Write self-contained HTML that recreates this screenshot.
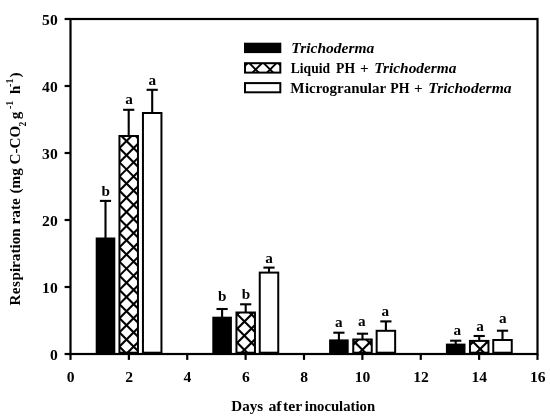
<!DOCTYPE html>
<html><head><meta charset="utf-8"><title>Respiration rate</title>
<style>
html,body{margin:0;padding:0;background:#fff;}
svg{display:block;}
text{font-family:"Liberation Serif",serif;font-weight:bold;fill:#000;}
</style></head><body>
<svg width="550" height="418" viewBox="0 0 550 418">
<rect x="0" y="0" width="550" height="418" fill="#fff"/>
<defs>
<clipPath id="c1"><rect x="119.45" y="136.00" width="18.50" height="218.00"/></clipPath>
<clipPath id="c4"><rect x="236.45" y="312.50" width="18.50" height="41.50"/></clipPath>
<clipPath id="c7"><rect x="353.25" y="339.50" width="18.50" height="14.50"/></clipPath>
<clipPath id="c10"><rect x="469.95" y="340.90" width="18.50" height="13.10"/></clipPath>
<clipPath id="cl"><rect x="245" y="63.2" width="35.3" height="9.4"/></clipPath>
</defs>
<line x1="105.50" y1="200.90" x2="105.50" y2="238.50" stroke="#000" stroke-width="2.1"/>
<line x1="99.90" y1="200.90" x2="111.10" y2="200.90" stroke="#000" stroke-width="2.1"/>
<rect x="95.70" y="237.50" width="19.6" height="116.50" fill="#000"/>
<text x="105.80" y="196.00" font-size="15.2" text-anchor="middle">b</text>
<line x1="128.70" y1="109.80" x2="128.70" y2="136.00" stroke="#000" stroke-width="2.1"/>
<line x1="123.10" y1="109.80" x2="134.30" y2="109.80" stroke="#000" stroke-width="2.1"/>
<rect x="119.45" y="136.00" width="18.50" height="216.70" fill="#fff" stroke="none"/>
<g clip-path="url(#c1)" stroke="#000" stroke-width="2.1" fill="none">
<line x1="117.45" y1="89.41" x2="139.95" y2="111.91"/>
<line x1="117.45" y1="103.59" x2="139.95" y2="126.09"/>
<line x1="117.45" y1="117.77" x2="139.95" y2="140.27"/>
<line x1="117.45" y1="131.95" x2="139.95" y2="154.45"/>
<line x1="117.45" y1="146.13" x2="139.95" y2="168.63"/>
<line x1="117.45" y1="160.31" x2="139.95" y2="182.81"/>
<line x1="117.45" y1="174.49" x2="139.95" y2="196.99"/>
<line x1="117.45" y1="188.67" x2="139.95" y2="211.17"/>
<line x1="117.45" y1="202.85" x2="139.95" y2="225.35"/>
<line x1="117.45" y1="217.03" x2="139.95" y2="239.53"/>
<line x1="117.45" y1="231.21" x2="139.95" y2="253.71"/>
<line x1="117.45" y1="245.39" x2="139.95" y2="267.89"/>
<line x1="117.45" y1="259.57" x2="139.95" y2="282.07"/>
<line x1="117.45" y1="273.75" x2="139.95" y2="296.25"/>
<line x1="117.45" y1="287.93" x2="139.95" y2="310.43"/>
<line x1="117.45" y1="302.11" x2="139.95" y2="324.61"/>
<line x1="117.45" y1="316.29" x2="139.95" y2="338.79"/>
<line x1="117.45" y1="330.47" x2="139.95" y2="352.97"/>
<line x1="117.45" y1="344.65" x2="139.95" y2="367.15"/>
<line x1="117.45" y1="358.83" x2="139.95" y2="381.33"/>
<line x1="117.45" y1="373.01" x2="139.95" y2="395.51"/>
<line x1="117.45" y1="121.69" x2="139.95" y2="99.19"/>
<line x1="117.45" y1="135.87" x2="139.95" y2="113.37"/>
<line x1="117.45" y1="150.05" x2="139.95" y2="127.55"/>
<line x1="117.45" y1="164.23" x2="139.95" y2="141.73"/>
<line x1="117.45" y1="178.41" x2="139.95" y2="155.91"/>
<line x1="117.45" y1="192.59" x2="139.95" y2="170.09"/>
<line x1="117.45" y1="206.77" x2="139.95" y2="184.27"/>
<line x1="117.45" y1="220.95" x2="139.95" y2="198.45"/>
<line x1="117.45" y1="235.13" x2="139.95" y2="212.63"/>
<line x1="117.45" y1="249.31" x2="139.95" y2="226.81"/>
<line x1="117.45" y1="263.49" x2="139.95" y2="240.99"/>
<line x1="117.45" y1="277.67" x2="139.95" y2="255.17"/>
<line x1="117.45" y1="291.85" x2="139.95" y2="269.35"/>
<line x1="117.45" y1="306.03" x2="139.95" y2="283.53"/>
<line x1="117.45" y1="320.21" x2="139.95" y2="297.71"/>
<line x1="117.45" y1="334.39" x2="139.95" y2="311.89"/>
<line x1="117.45" y1="348.57" x2="139.95" y2="326.07"/>
<line x1="117.45" y1="362.75" x2="139.95" y2="340.25"/>
<line x1="117.45" y1="376.93" x2="139.95" y2="354.43"/>
<line x1="117.45" y1="391.11" x2="139.95" y2="368.61"/>
</g>
<rect x="119.45" y="136.00" width="18.50" height="216.70" fill="none" stroke="#000" stroke-width="2.0"/>
<text x="129.00" y="103.90" font-size="15.2" text-anchor="middle">a</text>
<line x1="152.20" y1="89.80" x2="152.20" y2="113.00" stroke="#000" stroke-width="2.1"/>
<line x1="146.60" y1="89.80" x2="157.80" y2="89.80" stroke="#000" stroke-width="2.1"/>
<rect x="142.95" y="113.00" width="18.50" height="239.70" fill="#fff" stroke="none"/>
<rect x="142.95" y="113.00" width="18.50" height="239.70" fill="none" stroke="#000" stroke-width="2.0"/>
<text x="152.30" y="84.70" font-size="15.2" text-anchor="middle">a</text>
<line x1="222.10" y1="309.00" x2="222.10" y2="317.70" stroke="#000" stroke-width="2.1"/>
<line x1="216.50" y1="309.00" x2="227.70" y2="309.00" stroke="#000" stroke-width="2.1"/>
<rect x="212.30" y="316.70" width="19.6" height="37.30" fill="#000"/>
<text x="222.30" y="300.50" font-size="15.2" text-anchor="middle">b</text>
<line x1="245.70" y1="304.30" x2="245.70" y2="312.50" stroke="#000" stroke-width="2.1"/>
<line x1="240.10" y1="304.30" x2="251.30" y2="304.30" stroke="#000" stroke-width="2.1"/>
<rect x="236.45" y="312.50" width="18.50" height="40.20" fill="#fff" stroke="none"/>
<g clip-path="url(#c4)" stroke="#000" stroke-width="2.1" fill="none">
<line x1="234.45" y1="269.01" x2="256.95" y2="291.51"/>
<line x1="234.45" y1="283.19" x2="256.95" y2="305.69"/>
<line x1="234.45" y1="297.37" x2="256.95" y2="319.87"/>
<line x1="234.45" y1="311.55" x2="256.95" y2="334.05"/>
<line x1="234.45" y1="325.73" x2="256.95" y2="348.23"/>
<line x1="234.45" y1="339.91" x2="256.95" y2="362.41"/>
<line x1="234.45" y1="354.09" x2="256.95" y2="376.59"/>
<line x1="234.45" y1="368.27" x2="256.95" y2="390.77"/>
<line x1="234.45" y1="288.91" x2="256.95" y2="266.41"/>
<line x1="234.45" y1="303.09" x2="256.95" y2="280.59"/>
<line x1="234.45" y1="317.27" x2="256.95" y2="294.77"/>
<line x1="234.45" y1="331.45" x2="256.95" y2="308.95"/>
<line x1="234.45" y1="345.63" x2="256.95" y2="323.13"/>
<line x1="234.45" y1="359.81" x2="256.95" y2="337.31"/>
<line x1="234.45" y1="373.99" x2="256.95" y2="351.49"/>
<line x1="234.45" y1="388.17" x2="256.95" y2="365.67"/>
<line x1="234.45" y1="402.35" x2="256.95" y2="379.85"/>
</g>
<rect x="236.45" y="312.50" width="18.50" height="40.20" fill="none" stroke="#000" stroke-width="2.0"/>
<text x="245.90" y="299.00" font-size="15.2" text-anchor="middle">b</text>
<line x1="269.00" y1="267.60" x2="269.00" y2="272.60" stroke="#000" stroke-width="2.1"/>
<line x1="263.40" y1="267.60" x2="274.60" y2="267.60" stroke="#000" stroke-width="2.1"/>
<rect x="259.75" y="272.60" width="18.50" height="80.10" fill="#fff" stroke="none"/>
<rect x="259.75" y="272.60" width="18.50" height="80.10" fill="none" stroke="#000" stroke-width="2.0"/>
<text x="269.10" y="262.90" font-size="15.2" text-anchor="middle">a</text>
<line x1="338.90" y1="332.70" x2="338.90" y2="340.40" stroke="#000" stroke-width="2.1"/>
<line x1="333.30" y1="332.70" x2="344.50" y2="332.70" stroke="#000" stroke-width="2.1"/>
<rect x="329.10" y="339.40" width="19.6" height="14.60" fill="#000"/>
<text x="338.90" y="327.10" font-size="15.2" text-anchor="middle">a</text>
<line x1="362.50" y1="333.70" x2="362.50" y2="339.50" stroke="#000" stroke-width="2.1"/>
<line x1="356.90" y1="333.70" x2="368.10" y2="333.70" stroke="#000" stroke-width="2.1"/>
<rect x="353.25" y="339.50" width="18.50" height="13.20" fill="#fff" stroke="none"/>
<g clip-path="url(#c7)" stroke="#000" stroke-width="2.1" fill="none">
<line x1="351.25" y1="296.11" x2="373.75" y2="318.61"/>
<line x1="351.25" y1="310.29" x2="373.75" y2="332.79"/>
<line x1="351.25" y1="324.47" x2="373.75" y2="346.97"/>
<line x1="351.25" y1="338.65" x2="373.75" y2="361.15"/>
<line x1="351.25" y1="352.83" x2="373.75" y2="375.33"/>
<line x1="351.25" y1="367.01" x2="373.75" y2="389.51"/>
<line x1="351.25" y1="318.41" x2="373.75" y2="295.91"/>
<line x1="351.25" y1="332.59" x2="373.75" y2="310.09"/>
<line x1="351.25" y1="346.77" x2="373.75" y2="324.27"/>
<line x1="351.25" y1="360.95" x2="373.75" y2="338.45"/>
<line x1="351.25" y1="375.13" x2="373.75" y2="352.63"/>
<line x1="351.25" y1="389.31" x2="373.75" y2="366.81"/>
</g>
<rect x="353.25" y="339.50" width="18.50" height="13.20" fill="none" stroke="#000" stroke-width="2.0"/>
<text x="361.90" y="325.80" font-size="15.2" text-anchor="middle">a</text>
<line x1="385.90" y1="321.40" x2="385.90" y2="330.80" stroke="#000" stroke-width="2.1"/>
<line x1="380.30" y1="321.40" x2="391.50" y2="321.40" stroke="#000" stroke-width="2.1"/>
<rect x="376.65" y="330.80" width="18.50" height="21.90" fill="#fff" stroke="none"/>
<rect x="376.65" y="330.80" width="18.50" height="21.90" fill="none" stroke="#000" stroke-width="2.0"/>
<text x="385.40" y="315.50" font-size="15.2" text-anchor="middle">a</text>
<line x1="455.70" y1="340.70" x2="455.70" y2="344.60" stroke="#000" stroke-width="2.1"/>
<line x1="450.10" y1="340.70" x2="461.30" y2="340.70" stroke="#000" stroke-width="2.1"/>
<rect x="445.90" y="343.60" width="19.6" height="10.40" fill="#000"/>
<text x="457.20" y="334.70" font-size="15.2" text-anchor="middle">a</text>
<line x1="479.20" y1="336.00" x2="479.20" y2="340.90" stroke="#000" stroke-width="2.1"/>
<line x1="473.60" y1="336.00" x2="484.80" y2="336.00" stroke="#000" stroke-width="2.1"/>
<rect x="469.95" y="340.90" width="18.50" height="11.80" fill="#fff" stroke="none"/>
<g clip-path="url(#c10)" stroke="#000" stroke-width="2.1" fill="none">
<line x1="467.95" y1="294.21" x2="490.45" y2="316.71"/>
<line x1="467.95" y1="308.39" x2="490.45" y2="330.89"/>
<line x1="467.95" y1="322.57" x2="490.45" y2="345.07"/>
<line x1="467.95" y1="336.75" x2="490.45" y2="359.25"/>
<line x1="467.95" y1="350.93" x2="490.45" y2="373.43"/>
<line x1="467.95" y1="365.11" x2="490.45" y2="387.61"/>
<line x1="467.95" y1="379.29" x2="490.45" y2="401.79"/>
<line x1="467.95" y1="318.71" x2="490.45" y2="296.21"/>
<line x1="467.95" y1="332.89" x2="490.45" y2="310.39"/>
<line x1="467.95" y1="347.07" x2="490.45" y2="324.57"/>
<line x1="467.95" y1="361.25" x2="490.45" y2="338.75"/>
<line x1="467.95" y1="375.43" x2="490.45" y2="352.93"/>
<line x1="467.95" y1="389.61" x2="490.45" y2="367.11"/>
</g>
<rect x="469.95" y="340.90" width="18.50" height="11.80" fill="none" stroke="#000" stroke-width="2.0"/>
<text x="480.10" y="330.50" font-size="15.2" text-anchor="middle">a</text>
<line x1="502.50" y1="330.70" x2="502.50" y2="340.00" stroke="#000" stroke-width="2.1"/>
<line x1="496.90" y1="330.70" x2="508.10" y2="330.70" stroke="#000" stroke-width="2.1"/>
<rect x="493.25" y="340.00" width="18.50" height="12.70" fill="#fff" stroke="none"/>
<rect x="493.25" y="340.00" width="18.50" height="12.70" fill="none" stroke="#000" stroke-width="2.0"/>
<text x="502.70" y="323.40" font-size="15.2" text-anchor="middle">a</text>
<rect x="70.5" y="19.0" width="467.0" height="335.0" fill="none" stroke="#000" stroke-width="2.2"/>
<line x1="70.50" y1="354.0" x2="70.50" y2="359.9" stroke="#000" stroke-width="2.2"/>
<text x="70.70" y="382" font-size="15.6" text-anchor="middle">0</text>
<line x1="128.88" y1="354.0" x2="128.88" y2="359.9" stroke="#000" stroke-width="2.2"/>
<text x="129.07" y="382" font-size="15.6" text-anchor="middle">2</text>
<line x1="187.25" y1="354.0" x2="187.25" y2="359.9" stroke="#000" stroke-width="2.2"/>
<text x="187.45" y="382" font-size="15.6" text-anchor="middle">4</text>
<line x1="245.62" y1="354.0" x2="245.62" y2="359.9" stroke="#000" stroke-width="2.2"/>
<text x="245.82" y="382" font-size="15.6" text-anchor="middle">6</text>
<line x1="304.00" y1="354.0" x2="304.00" y2="359.9" stroke="#000" stroke-width="2.2"/>
<text x="304.20" y="382" font-size="15.6" text-anchor="middle">8</text>
<line x1="362.38" y1="354.0" x2="362.38" y2="359.9" stroke="#000" stroke-width="2.2"/>
<text x="362.57" y="382" font-size="15.6" text-anchor="middle">10</text>
<line x1="420.75" y1="354.0" x2="420.75" y2="359.9" stroke="#000" stroke-width="2.2"/>
<text x="420.95" y="382" font-size="15.6" text-anchor="middle">12</text>
<line x1="479.12" y1="354.0" x2="479.12" y2="359.9" stroke="#000" stroke-width="2.2"/>
<text x="479.32" y="382" font-size="15.6" text-anchor="middle">14</text>
<line x1="537.50" y1="354.0" x2="537.50" y2="359.9" stroke="#000" stroke-width="2.2"/>
<text x="537.70" y="382" font-size="15.6" text-anchor="middle">16</text>
<line x1="64.6" y1="354.00" x2="70.5" y2="354.00" stroke="#000" stroke-width="2.2"/>
<text x="57.7" y="359.70" font-size="15.6" text-anchor="end">0</text>
<line x1="64.6" y1="287.00" x2="70.5" y2="287.00" stroke="#000" stroke-width="2.2"/>
<text x="57.7" y="292.70" font-size="15.6" text-anchor="end">10</text>
<line x1="64.6" y1="220.00" x2="70.5" y2="220.00" stroke="#000" stroke-width="2.2"/>
<text x="57.7" y="225.70" font-size="15.6" text-anchor="end">20</text>
<line x1="64.6" y1="153.00" x2="70.5" y2="153.00" stroke="#000" stroke-width="2.2"/>
<text x="57.7" y="158.70" font-size="15.6" text-anchor="end">30</text>
<line x1="64.6" y1="86.00" x2="70.5" y2="86.00" stroke="#000" stroke-width="2.2"/>
<text x="57.7" y="91.70" font-size="15.6" text-anchor="end">40</text>
<line x1="64.6" y1="19.00" x2="70.5" y2="19.00" stroke="#000" stroke-width="2.2"/>
<text x="57.7" y="24.70" font-size="15.6" text-anchor="end">50</text>
<text transform="translate(20.2,305.6) rotate(-90)" font-size="15.2">R<tspan dx="0.5">e</tspan><tspan dx="0.5">s</tspan><tspan dx="0.4">piration rate </tspan><tspan dx="1">(mg C-CO</tspan><tspan font-size="9.5" dy="6.2" dx="-0.8">2</tspan><tspan dy="-6.2" dx="-1.5"> g</tspan><tspan font-size="10" dy="-7.7" dx="2.7">-1</tspan><tspan dy="7.7" dx="3.0"> h</tspan><tspan font-size="10" dy="-7.7" dx="-1.4">-1</tspan><tspan dy="7.7" dx="1">)</tspan></text>
<rect x="245" y="43.7" width="35.3" height="8.4" fill="#000" stroke="#000" stroke-width="2"/>
<rect x="245" y="63.2" width="35.3" height="9.4" fill="#fff" stroke="none"/>
<g clip-path="url(#cl)" stroke="#000" stroke-width="1.9" fill="none">
<line x1="243.00" y1="-0.80" x2="282.30" y2="38.50"/>
<line x1="243.00" y1="13.60" x2="282.30" y2="52.90"/>
<line x1="243.00" y1="28.00" x2="282.30" y2="67.30"/>
<line x1="243.00" y1="42.40" x2="282.30" y2="81.70"/>
<line x1="243.00" y1="56.80" x2="282.30" y2="96.10"/>
<line x1="243.00" y1="71.20" x2="282.30" y2="110.50"/>
<line x1="243.00" y1="85.60" x2="282.30" y2="124.90"/>
<line x1="243.00" y1="39.00" x2="282.30" y2="-0.30"/>
<line x1="243.00" y1="53.40" x2="282.30" y2="14.10"/>
<line x1="243.00" y1="67.80" x2="282.30" y2="28.50"/>
<line x1="243.00" y1="82.20" x2="282.30" y2="42.90"/>
<line x1="243.00" y1="96.60" x2="282.30" y2="57.30"/>
<line x1="243.00" y1="111.00" x2="282.30" y2="71.70"/>
<line x1="243.00" y1="125.40" x2="282.30" y2="86.10"/>
</g>
<rect x="245" y="63.2" width="35.3" height="9.4" fill="none" stroke="#000" stroke-width="2"/>
<rect x="245" y="83.1" width="35.3" height="9.2" fill="#fff" stroke="#000" stroke-width="2"/>
<text x="291.3" y="53" font-size="15.2" font-style="italic" textLength="83.0" lengthAdjust="spacingAndGlyphs">Trichoderma</text>
<text x="290.8" y="73" font-size="15.2" textLength="39.2" lengthAdjust="spacingAndGlyphs">Liquid</text>
<text x="336.1" y="73" font-size="15.2" textLength="19.0" lengthAdjust="spacingAndGlyphs">PH</text>
<text x="360.0" y="73" font-size="15.2">+</text>
<text x="374.2" y="73" font-size="15.2" font-style="italic" textLength="82.3" lengthAdjust="spacingAndGlyphs">Trichoderma</text>
<text x="290.3" y="93" font-size="15.2">M</text>
<text x="304.9" y="93" font-size="15.2" textLength="81.2" lengthAdjust="spacingAndGlyphs">icrogranular</text>
<text x="390.2" y="93" font-size="15.2" textLength="19.2" lengthAdjust="spacingAndGlyphs">PH</text>
<text x="414.0" y="93" font-size="15.2">+</text>
<text x="428.2" y="93" font-size="15.2" font-style="italic" textLength="83.4" lengthAdjust="spacingAndGlyphs">Trichoderma</text>
<text x="231.3" y="410.8" font-size="15.2" textLength="31.8" lengthAdjust="spacingAndGlyphs">Days</text>
<text x="268.4" y="410.8" font-size="15.2" textLength="13.3" lengthAdjust="spacingAndGlyphs">af</text>
<text x="283.0" y="410.8" font-size="15.2" textLength="19.2" lengthAdjust="spacingAndGlyphs">ter</text>
<text x="304.8" y="410.8" font-size="15.2" textLength="70.3" lengthAdjust="spacingAndGlyphs">inoculation</text>
</svg>
</body></html>
